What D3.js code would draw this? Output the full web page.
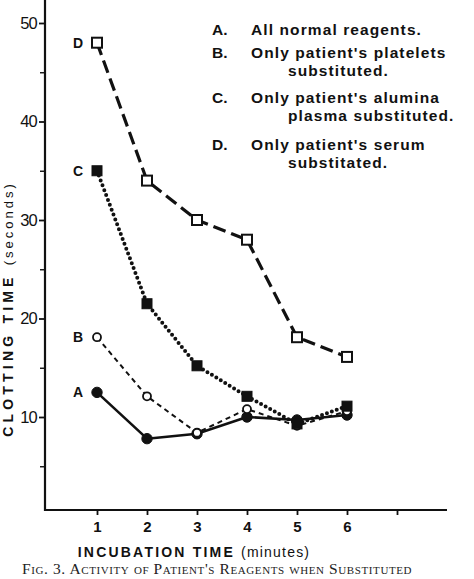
<!DOCTYPE html>
<html>
<head>
<meta charset="utf-8">
<script src="https://cdn.jsdelivr.net/npm/d3@7"></script>
<style>
  body { margin: 0; background: #fff; }
  svg { display: block; }
</style>
</head>
<body>
<svg id="chart"></svg>
<script>
// incubation time (minutes)
const minutes = [1, 2, 3, 4, 5, 6];
// clotting time (seconds) per curve
const seriesA = [12.5, 7.8, 8.3, 10.0, 9.7, 10.2];
const seriesB = [18.1, 12.1, 8.4, 10.8, 9.1, 10.6];
const seriesC = [35.0, 21.5, 15.2, 12.1, 9.3, 11.1];
const seriesD = [48.0, 34.0, 30.0, 28.0, 18.1, 16.1];
const curveLetters = ['A', 'B', 'C', 'D'];
const legendLines = [
  ['A.', 'All normal reagents.'],
  ['B.', "Only patient's platelets", 'substituted.'],
  ['C.', "Only patient's alumina", 'plasma substituted.'],
  ['D.', "Only patient's serum", 'substitated.'],
];
const yMajorTicks = [10, 20, 30, 40, 50];
const yMinorTicks = [5, 15, 25, 35, 45];
const xTicks = [1, 2, 3, 4, 5, 6, 7];
const xTickLabels = ['1', '2', '3', '4', '5', '6', ''];

const W = 474, H = 579;
const svg = d3.select('#chart').attr('width', W).attr('height', H);
const font = "'Liberation Sans', Arial, sans-serif";

const x = d3.scaleLinear().domain([0, 8]).range([47, 447]);
const y = d3.scaleLinear().domain([0, 50]).range([515.5, 23]);

// axes lines
svg.append('line')
  .attr('x1', 45).attr('x2', 45)
  .attr('y1', 0).attr('y2', 511)
  .attr('stroke', '#111').attr('stroke-width', 2.2);
svg.append('line')
  .attr('x1', 44).attr('x2', x(8))
  .attr('y1', 510).attr('y2', 510)
  .attr('stroke', '#111').attr('stroke-width', 2.2);

// y axis ticks
const yAxisMajor = svg.append('g')
  .attr('transform', 'translate(45,0)')
  .call(d3.axisLeft(y).tickValues(yMajorTicks).tickSize(6).tickPadding(2));
yAxisMajor.select('.domain').remove();
yAxisMajor.selectAll('line').attr('stroke', '#111').attr('stroke-width', 1.8);
yAxisMajor.selectAll('text')
  .attr('font-family', font).attr('font-size', 16.5).attr('fill', '#111')
  .style('letter-spacing', '-0.8px');

const yAxisMinor = svg.append('g')
  .attr('transform', 'translate(45,0)')
  .call(d3.axisLeft(y).tickValues(yMinorTicks).tickSize(5).tickFormat(''));
yAxisMinor.select('.domain').remove();
yAxisMinor.selectAll('line').attr('stroke', '#111').attr('stroke-width', 1.4);

// x axis ticks
const xAxis = svg.append('g')
  .attr('transform', 'translate(0,510)')
  .call(d3.axisBottom(x).tickValues(xTicks).tickSize(5).tickPadding(6)
    .tickFormat((d, i) => xTickLabels[i]));
xAxis.select('.domain').remove();
xAxis.selectAll('line').attr('stroke', '#111').attr('stroke-width', 1.8);
xAxis.selectAll('text')
  .attr('font-family', font).attr('font-size', 15).attr('font-weight', 'bold').attr('fill', '#111');

// axis titles
svg.append('text')
  .attr('transform', 'translate(13,309) rotate(-90)')
  .attr('text-anchor', 'middle')
  .attr('font-family', font).attr('fill', '#111')
  .call(t => {
    t.append('tspan').attr('font-size', 14).attr('font-weight', 'bold')
      .style('letter-spacing', '4.2px').text('CLOTTING TIME ');
    t.append('tspan').attr('font-size', 13)
      .style('letter-spacing', '3px').text(' (seconds)');
  });

svg.append('text')
  .attr('x', 194).attr('y', 557)
  .attr('text-anchor', 'middle')
  .attr('font-family', font).attr('fill', '#111')
  .call(t => {
    t.append('tspan').attr('font-size', 14).attr('font-weight', 'bold')
      .style('letter-spacing', '2.2px').text('INCUBATION  TIME ');
    t.append('tspan').attr('font-size', 14).style('letter-spacing', '1.2px').text(' (minutes)');
  });

// caption
svg.append('text')
  .attr('x', 22).attr('y', 574)
  .attr('font-family', "'Liberation Serif', 'DejaVu Serif', serif")
  .attr('font-size', 15.5).attr('fill', '#222')
  .style('font-variant', 'small-caps')
  .style('letter-spacing', '0.6px')
  .text("Fig. 3.   Activity of Patient's Reagents when Substituted");

// series
const allSeries = [
  { key: 'A', values: seriesA, dash: null, width: 2.6, cap: 'butt', marker: 'circleFilled' },
  { key: 'B', values: seriesB, dash: '5,4', width: 2, cap: 'butt', marker: 'circleOpen' },
  { key: 'C', values: seriesC, dash: '0,5.2', width: 4, cap: 'round', marker: 'squareFilled' },
  { key: 'D', values: seriesD, dash: '13,6', width: 3.2, cap: 'butt', marker: 'squareOpen' },
];

const line = d3.line().x(d => x(d[0])).y(d => y(d[1]));

allSeries.forEach(s => {
  const pts = minutes.map((m, i) => [m, s.values[i]]);
  const path = svg.append('path')
    .datum(pts)
    .attr('d', line)
    .attr('fill', 'none')
    .attr('stroke', '#111')
    .attr('stroke-width', s.width)
    .attr('stroke-linecap', s.cap)
    .attr('stroke-linejoin', 'round');
  if (s.dash) path.attr('stroke-dasharray', s.dash);
});

allSeries.forEach((s, k) => {
  const pts = minutes.map((m, i) => [m, s.values[i]]);
  const g = svg.append('g');
  if (s.marker === 'circleFilled' || s.marker === 'circleOpen') {
    const open = s.marker === 'circleOpen';
    g.selectAll('circle').data(pts).enter().append('circle')
      .attr('cx', d => x(d[0])).attr('cy', d => y(d[1]))
      .attr('r', open ? 4 : 5.2)
      .attr('fill', open ? '#fff' : '#111')
      .attr('stroke', '#111').attr('stroke-width', open ? 1.8 : 1);
  } else {
    const open = s.marker === 'squareOpen';
    const size = 10;
    g.selectAll('rect').data(pts).enter().append('rect')
      .attr('x', d => x(d[0]) - size / 2).attr('y', d => y(d[1]) - size / 2)
      .attr('width', size).attr('height', size)
      .attr('fill', open ? '#fff' : '#111')
      .attr('stroke', '#111').attr('stroke-width', open ? 2 : 1);
  }
  // curve letter next to first point
  svg.append('text')
    .attr('x', x(minutes[0]) - 19).attr('y', y(s.values[0]) + 5)
    .attr('text-anchor', 'middle')
    .attr('font-family', font).attr('font-size', 14).attr('font-weight', 'bold')
    .attr('fill', '#111')
    .text(curveLetters[k]);
});

// legend
const legendTop = [35, 58, 103, 150];
legendLines.forEach((item, i) => {
  const base = legendTop[i];
  svg.append('text')
    .attr('x', 212).attr('y', base)
    .attr('font-family', font).attr('font-size', 15.5).attr('font-weight', 'bold')
    .attr('fill', '#111')
    .text(item[0]);
  svg.append('text')
    .attr('x', 251).attr('y', base)
    .attr('font-family', font).attr('font-size', 15.5).attr('font-weight', 'bold')
    .attr('fill', '#111').style('letter-spacing', '1.1px')
    .text(item[1]);
  if (item[2]) {
    svg.append('text')
      .attr('x', 288).attr('y', base + 18)
      .attr('font-family', font).attr('font-size', 15.5).attr('font-weight', 'bold')
      .attr('fill', '#111').style('letter-spacing', '1.1px')
      .text(item[2]);
  }
});
</script>
</body>
</html>
